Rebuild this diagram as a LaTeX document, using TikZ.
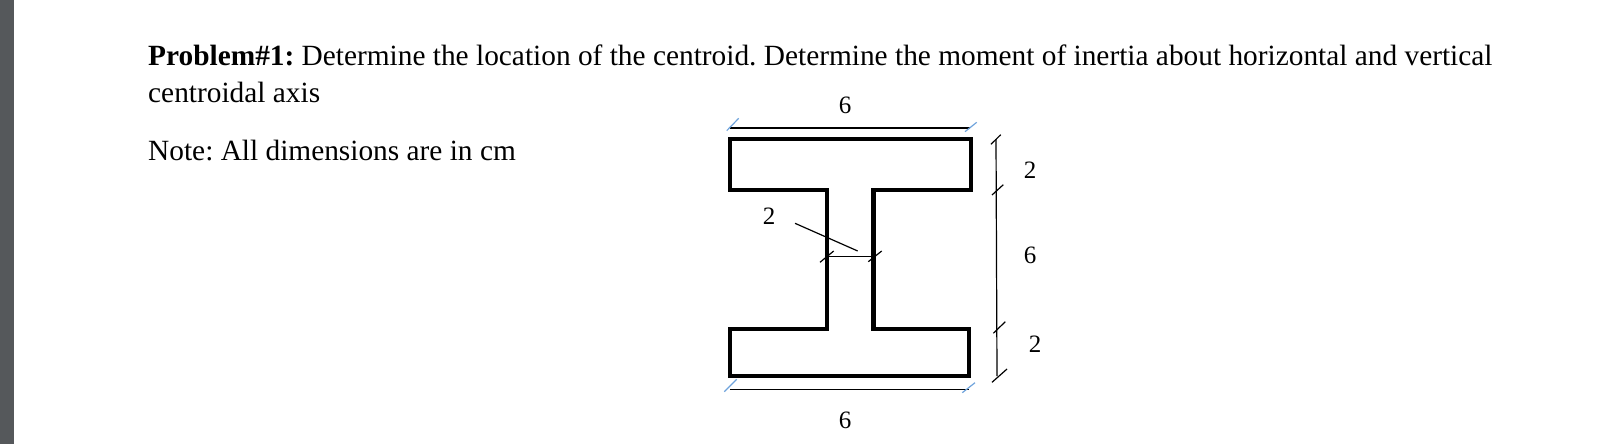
\documentclass[tikz,border=0pt]{standalone}
\usepackage{fontspec}
\setmainfont{Liberation Serif}
\definecolor{barcolor}{HTML}{55585B}
\definecolor{tickblue}{HTML}{6FA3DC}

\begin{document}
\begin{tikzpicture}[x=1pt, y=-1pt]
    \tikzset{textline/.style = {anchor=base west, inner sep=0pt, font=\fontsize{29.35}{32}\selectfont\frenchspacing}}
    \tikzset{dimlabel/.style = {inner sep=0pt, font=\fontsize{25}{27}\selectfont}}
    \tikzset{section/.style = {line width=4.5pt, line join=miter}}
    \tikzset{dimline/.style = {line width=1.2pt, black}}
    \tikzset{bluetick/.style = {line width=1.2pt, tickblue}}

    \useasboundingbox (0, 0) rectangle (1624, 444);
    \fill[barcolor] (0, 0) rectangle (14, 444);

    % text
    \node[textline] (line1) at (148, 66) {\textbf{Problem\#1:} Determine the location of the centroid. Determine the moment of inertia about horizontal and vertical};
    \node[textline] (line2) at (148, 102) {centroidal axis};
    \node[textline] (note) at (148, 160) {Note: All dimensions are in cm};

    % section
    \draw[section] (730, 139) -- (971, 139) -- (971, 190) -- (873.7, 190) -- (873.7, 329)
        -- (969, 329) -- (969, 376) -- (730, 376) -- (730, 329) -- (827, 329)
        -- (827, 190) -- (730, 190) -- cycle;

    % width dimensions
    \coordinate (t1) at (730, 128);
    \coordinate (t2) at (970, 128);
    \coordinate (b1) at (730, 389.5);
    \coordinate (b2) at (969, 389.5);
    \draw[dimline] (t1) -- (t2);
    \draw[dimline] (b1) -- (b2);
    \draw[bluetick] (726.7, 130.7) -- (738.7, 118.3);
    \draw[bluetick] (965, 131.7) -- (976.7, 122.3);
    \draw[bluetick] (724.3, 391.7) -- (736.7, 379.3);
    \draw[bluetick] (962.3, 392.7) -- (975, 382.7);
    \node[dimlabel] (top6) at (845, 105.5) {6};
    \node[dimlabel] (bottom6) at (845, 420) {6};

    % height dimensions
    \coordinate (r1) at (996, 139);
    \coordinate (r2) at (997, 376);
    \draw[dimline] (r1) -- (r2);
    \draw[dimline] (991, 144.3) -- (1000.7, 134.7);
    \draw[dimline] (992, 195) -- (1003.3, 184.7);
    \draw[dimline] (993.3, 333.3) -- (1005.3, 321.7);
    \draw[dimline] (992, 382.3) -- (1007, 369);
    \node[dimlabel] (right2a) at (1030, 170) {2};
    \node[dimlabel] (right6) at (1030, 255.5) {6};
    \node[dimlabel] (right2b) at (1035, 344.5) {2};

    % web dimension
    \coordinate (w1) at (827, 256.7);
    \coordinate (w2) at (873.7, 256.7);
    \coordinate (l1) at (795, 223.3);
    \coordinate (l2) at (857.7, 251);
    \draw[dimline] (w1) -- (w2);
    \draw[dimline] (l1) -- (l2);
    \draw[dimline] (820, 262.3) -- (833.7, 251);
    \draw[dimline] (868.3, 261.7) -- (881.7, 251);
    \node[dimlabel] (web2) at (769, 216.5) {2};
\end{tikzpicture}
\end{document}
